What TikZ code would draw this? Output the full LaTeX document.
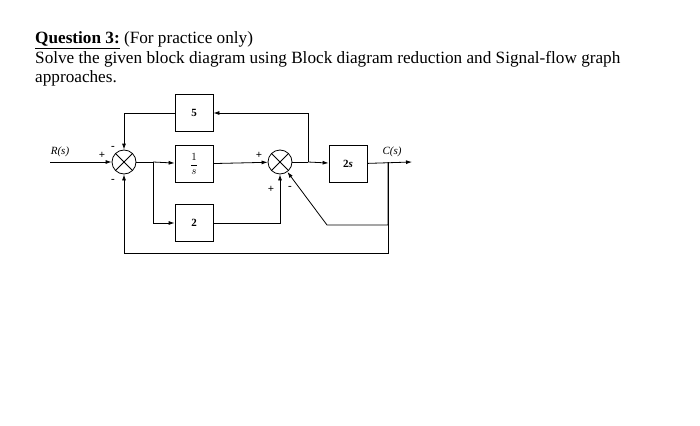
\documentclass[tikz,border=0pt]{standalone}
\usepackage{fontspec}
\setmainfont{Liberation Serif}
\usetikzlibrary{calc,arrows.meta}
\tikzset{
  blk/.style={draw,thick,minimum width=38pt,minimum height=37pt,inner sep=0pt,font=\fontsize{11}{12}\selectfont\bfseries},
  sum/.style={draw,thick,circle,minimum size=24pt,inner sep=0pt,path picture={
      \draw[thick] (path picture bounding box.north west)--(path picture bounding box.south east)
        (path picture bounding box.north east)--(path picture bounding box.south west);}},
  sig/.style={thick,-{Latex[length=6pt,width=4pt]}},
  sgn/.style={font=\fontsize{11}{12}\selectfont\bfseries,inner sep=0pt},
  lbl/.style={font=\fontsize{11}{12}\selectfont\itshape},
  qtext/.style={anchor=base west,inner sep=0pt,font=\fontsize{17.2}{19}\selectfont}
}
\begin{document}
\begin{tikzpicture}[x=1pt,y=-1pt]
                \useasboundingbox (0,0) rectangle (700,425);
                % Question text
                \node[qtext] (q1) at (35,44) {\textbf{\underline{Question 3:}} (For practice only)};
                \node[qtext] (q2) at (35,63.5) {Solve the given block diagram using Block diagram reduction and Signal-flow graph};
                \node[qtext] (q3) at (35,83) {approaches.};
                % Blocks and summing points
                \node[sum] (s1) at (124,162) {};
                \node[sum] (s2) at (280,162) {};
                \node[blk] (b5) at (194,113) {5};
                \node[blk] (binv) at (194,164) {$\displaystyle\frac{1}{s}$};
                \node[blk] (b2) at (194,223) {2};
                \node[blk] (b2s) at (348,164) {2\textit{s}};
                % Branch points
                \coordinate (rin) at (50,162);
                \coordinate (p1) at (153,162);
                \coordinate (p2) at (308,162);
                \coordinate (p3) at (388,162);
                \coordinate (cout) at (412,162);
                % Forward path
                \draw[sig] (rin) -- (s1);
                \draw[thick] (s1) -- (p1);
                \draw[sig] (p1) -- (binv);
                \draw[sig] (p1) |- (b2);
                \draw[sig] (binv) -- (s2);
                \draw[sig] (b2) -| (s2);
                \draw[thick] (s2) -- (p2);
                \draw[sig] (p2) -- (b2s);
                \draw[sig] (b2s) -- (cout);
                % Feedback paths
                \draw[sig] (p2) |- (b5);
                \draw[sig] (b5) -| (s1);
                \draw[sig] (p3) |- (124,253) -- (s1);
                \draw[sig] (p3) |- (327,225) -- (s2);
                % Labels
                \node[lbl] (rl) at (60,152) {R(s)};
                \node[lbl] (cl) at (392,152) {C(s)};
                \node[sgn] (m1) at (102,155) {+};
                \node[sgn] (m2) at (113,148) {-};
                \node[sgn] (m3) at (113,181) {-};
                \node[sgn] (m4) at (259,155) {+};
                \node[sgn] (m5) at (271,189) {+};
                \node[sgn] (m6) at (290,188) {-};
            \end{tikzpicture}
\end{document}
